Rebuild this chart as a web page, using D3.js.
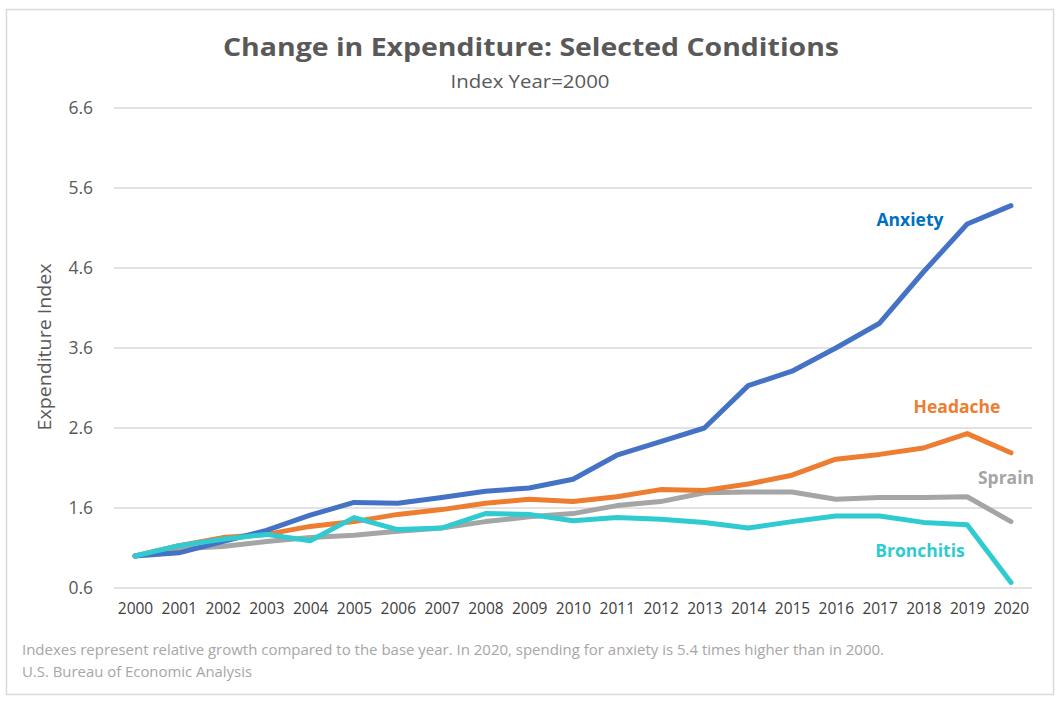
<!DOCTYPE html>
<html>
<head>
<meta charset="utf-8">
<script src="https://cdn.jsdelivr.net/npm/d3@7"></script>
<style>
  body { margin: 0; background: #fff; }
  text { font-family: "Open Sans", sans-serif; }
</style>
</head>
<body>
<div id="root"></div>
<script>
const years = d3.range(2000, 2021).map(String);
const anxiety = [1.0, 1.04, 1.18, 1.32, 1.51, 1.67, 1.66, 1.73, 1.81, 1.85, 1.96, 2.26, 2.43, 2.6, 3.13, 3.31, 3.6, 3.91, 4.55, 5.15, 5.38];
const headache = [1.0, 1.13, 1.23, 1.27, 1.37, 1.43, 1.52, 1.58, 1.66, 1.71, 1.68, 1.74, 1.83, 1.82, 1.9, 2.01, 2.21, 2.27, 2.35, 2.53, 2.29];
const sprain = [1.0, 1.09, 1.12, 1.18, 1.23, 1.26, 1.31, 1.35, 1.43, 1.49, 1.53, 1.63, 1.68, 1.79, 1.8, 1.8, 1.71, 1.73, 1.73, 1.74, 1.43];
const bronchitis = [1.0, 1.13, 1.21, 1.27, 1.19, 1.48, 1.33, 1.35, 1.53, 1.52, 1.44, 1.48, 1.46, 1.42, 1.35, 1.43, 1.5, 1.5, 1.42, 1.39, 0.67];
const yTicks = [0.6, 1.6, 2.6, 3.6, 4.6, 5.6, 6.6];

const series = [
  { name: "Sprain", values: sprain, color: "#a5a5a5", labelColor: "#a5a5a5", lx: 1006, ly: 479 },
  { name: "Headache", values: headache, color: "#ed7d31", labelColor: "#ed7d31", lx: 957, ly: 408 },
  { name: "Anxiety", values: anxiety, color: "#4472c4", labelColor: "#0070c0", lx: 910, ly: 221 },
  { name: "Bronchitis", values: bronchitis, color: "#2fcbd1", labelColor: "#2fcbd1", lx: 920, ly: 552 },
];

const width = 1064, height = 703;
const svg = d3.create("svg").attr("width", width).attr("height", height);

// chart border
svg.append("rect")
  .attr("x", 6.5).attr("y", 9.5)
  .attr("width", 1047).attr("height", 685)
  .attr("fill", "#fff")
  .attr("stroke", "#d9d9d9")
  .attr("stroke-width", 1.5);

const x = d3.scalePoint().domain(years).range([135, 1011]);
const y = d3.scaleLinear().domain([0.6, 6.6]).range([588, 108]);

// gridlines
svg.append("g")
  .selectAll("line")
  .data(yTicks)
  .join("line")
  .attr("x1", 114).attr("x2", 1032)
  .attr("y1", (d) => y(d)).attr("y2", (d) => y(d))
  .attr("stroke", "#d9d9d9")
  .attr("stroke-width", 1.5);

// y axis labels
const yAxis = svg.append("g")
  .attr("transform", "translate(114,0)")
  .call(d3.axisLeft(y).tickValues(yTicks).tickFormat(d3.format(".1f")).tickSize(0).tickPadding(21));
yAxis.select(".domain").remove();
yAxis.selectAll("text").attr("fill", "#595959").attr("font-size", 17.5).attr("font-family", "Open Sans");

// x axis labels
const xAxis = svg.append("g")
  .attr("transform", "translate(0,588)")
  .call(d3.axisBottom(x).tickSize(0).tickPadding(15));
xAxis.select(".domain").remove();
xAxis.selectAll("text").attr("fill", "#404040").attr("font-size", 15.5).attr("font-family", "Open Sans");

// lines
const line = d3.line().x((d, i) => x(years[i])).y((d) => y(d));
svg.append("g")
  .selectAll("path")
  .data(series)
  .join("path")
  .attr("d", (d) => line(d.values))
  .attr("fill", "none")
  .attr("stroke", (d) => d.color)
  .attr("stroke-width", 5)
  .attr("stroke-linejoin", "round")
  .attr("stroke-linecap", "round");

// series labels
svg.append("g")
  .selectAll("text")
  .data(series)
  .join("text")
  .attr("x", (d) => d.lx)
  .attr("y", (d) => d.ly)
  .attr("text-anchor", "middle")
  .attr("dominant-baseline", "middle")
  .attr("font-size", 17.5)
  .attr("font-weight", "bold")
  .attr("fill", (d) => d.labelColor)
  .text((d) => d.name);

// titles
svg.append("text")
  .attr("x", 531).attr("y", 56)
  .attr("text-anchor", "middle")
  .attr("font-size", 25)
  .attr("font-weight", "bold")
  .attr("fill", "#595959")
  .attr("textLength", 616)
  .attr("lengthAdjust", "spacingAndGlyphs")
  .text("Change in Expenditure: Selected Conditions");

svg.append("text")
  .attr("x", 530).attr("y", 88)
  .attr("text-anchor", "middle")
  .attr("font-size", 17.5)
  .attr("fill", "#595959")
  .attr("textLength", 159)
  .attr("lengthAdjust", "spacingAndGlyphs")
  .text("Index Year=2000");

svg.append("text")
  .attr("transform", "translate(51,347) rotate(-90)")
  .attr("text-anchor", "middle")
  .attr("font-size", 18)
  .attr("fill", "#595959")
  .attr("textLength", 167)
  .attr("lengthAdjust", "spacingAndGlyphs")
  .text("Expenditure Index");

// footnotes
svg.append("text")
  .attr("x", 22).attr("y", 655)
  .attr("font-size", 14.5)
  .attr("fill", "#a6a6a6")
  .attr("textLength", 862)
  .attr("lengthAdjust", "spacingAndGlyphs")
  .text("Indexes represent relative growth compared to the base year. In 2020, spending for anxiety is 5.4 times higher than in 2000.");

svg.append("text")
  .attr("x", 22).attr("y", 677)
  .attr("font-size", 14.5)
  .attr("fill", "#a6a6a6")
  .attr("textLength", 230)
  .attr("lengthAdjust", "spacingAndGlyphs")
  .text("U.S. Bureau of Economic Analysis");

d3.select("#root").append(() => svg.node());
</script>
</body>
</html>
